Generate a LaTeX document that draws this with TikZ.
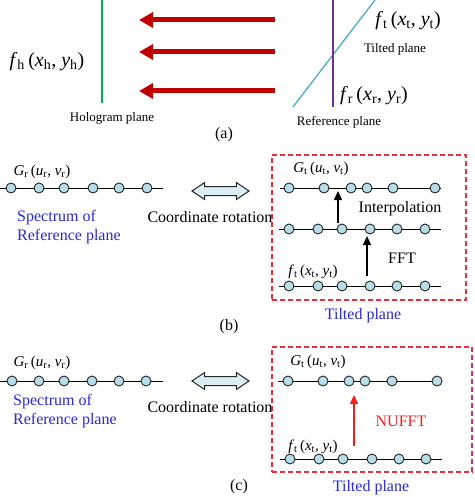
\documentclass[tikz,border=0pt]{standalone}
\usepackage{fontspec}
\setmainfont{Liberation Serif}
\usetikzlibrary{arrows.meta, shapes.arrows}
\definecolor{holoGreen}{HTML}{00B050}
\definecolor{refPurple}{HTML}{7030A0}
\definecolor{tiltCyan}{HTML}{4BACC6}
\definecolor{beamRed}{HTML}{C00000}
\definecolor{boxRed}{HTML}{E8303A}
\definecolor{nuRed}{HTML}{FF1A1A}
\definecolor{specBlue}{HTML}{2828DC}
\definecolor{sampleFill}{HTML}{B7DDE8}
\definecolor{arrowFill}{HTML}{DAEEF3}
\newcommand{\planefn}[4]{\textit{#1}\textsubscript{#2}\,(\textit{#3}\textsubscript{#2}, \textit{#4}\textsubscript{#2})}
\tikzset{
  rotfig/.style={x=1pt, y=-1pt, every node/.append style={inner sep=0pt}},
  txt/.style={font=\fontsize{16}{19}\selectfont},
  smalltxt/.style={font=\fontsize{13}{15}\selectfont},
  biglbl/.style={font=\fontsize{20}{23}\selectfont},
  lbl/.style={font=\fontsize{15}{17}\selectfont},
  bluetxt/.style={txt, text=specBlue, align=left},
  hololine/.style={draw=holoGreen, line width=1.3pt},
  refline/.style={draw=refPurple, line width=1.3pt},
  tiltline/.style={draw=tiltCyan, line width=1.3pt},
  beam/.style={draw=beamRed, line width=5pt, -{Triangle[length=14pt, width=15pt]}},
  axis/.style={draw=black, line width=1pt},
  sample/.style={circle, draw=black!85, fill=sampleFill, line width=0.9pt, minimum size=10pt},
  stepup/.style={draw=black, line width=1.3pt, -{Triangle[length=9pt, width=8pt]}},
  nuup/.style={draw=nuRed, line width=1.5pt, -{Triangle[length=9pt, width=8pt]}},
  rotarrow/.style={shape=double arrow, draw=black!85, fill=arrowFill, line width=1pt,
    inner xsep=0pt, inner ysep=4pt, minimum height=57pt,
    double arrow head extend=4pt, double arrow tip angle=68},
  tiltbox/.style={draw=boxRed, line width=1.4pt, dash pattern=on 5pt off 3pt},
}
\begin{document}
\begin{tikzpicture}[rotfig]
  \useasboundingbox (0,0) rectangle (474,497);
  % (a) planes and incoming beams
  \coordinate (holoTop) at (102,0);
  \coordinate (holoBot) at (102,103);
  \coordinate (refTop) at (333,0);
  \coordinate (refBot) at (333,107);
  \coordinate (tiltTop) at (375,0);
  \coordinate (tiltBot) at (293,107);
  \draw[hololine] (holoTop) -- (holoBot);
  \draw[tiltline] (tiltBot) -- (tiltTop);
  \draw[refline] (refTop) -- (refBot);
  \foreach \y [count=\i] in {20,52,91} {
    \coordinate (beamS\i) at (275,\y);
    \coordinate (beamE\i) at (139,\y);
    \draw[beam] (beamS\i) -- (beamE\i);
  }
  \node[biglbl] (fh) at (47,62) {\planefn{f}{h}{x}{y}};
  \node[smalltxt] (holoName) at (112,118) {Hologram plane};
  \node[biglbl] (ftA) at (408,21) {\planefn{f}{t}{x}{y}};
  \node[smalltxt] (tiltName) at (395,49) {Tilted plane};
  \node[biglbl] (fr) at (374,96) {\planefn{f}{r}{x}{y}};
  \node[smalltxt] (refName) at (339,122) {Reference plane};
  \node[txt] (capA) at (224,135) {(a)};
  % (b) FFT + interpolation
  \node[lbl] (GrB) at (42,172) {\planefn{G}{r}{u}{v}};
  \coordinate (rowBrL) at (0,188);
  \coordinate (rowBrR) at (163,188);
  \draw[axis] (rowBrL) -- (rowBrR);
  \foreach \x [count=\i] in {11,39,64,93,119,147}
    \node[sample] (br\i) at (\x,188) {};
  \node[bluetxt, anchor=west] (specB) at (17,227) {Spectrum of\\Reference plane};
  \node[rotarrow] (rotB) at (220.5,191) {};
  \node[txt] (rotNameB) at (210,217) {Coordinate rotation};
  \node[tiltbox, minimum width=194pt, minimum height=145pt] (boxB) at (369,227.5) {};
  \node[lbl] (GtB) at (321,169) {\planefn{G}{t}{u}{v}};
  \coordinate (rowBtL) at (280,188);
  \coordinate (rowBtR) at (441,188);
  \coordinate (rowBmL) at (279,229);
  \coordinate (rowBmR) at (441,229);
  \coordinate (rowBbL) at (279,286);
  \coordinate (rowBbR) at (441,286);
  \draw[axis] (rowBtL) -- (rowBtR);
  \draw[axis] (rowBmL) -- (rowBmR);
  \draw[axis] (rowBbL) -- (rowBbR);
  \foreach \x [count=\i] in {289,324,351,367,393,435}
    \node[sample] (bt\i) at (\x,188) {};
  \foreach \x [count=\i] in {289,318,342,370,397,425} {
    \node[sample] (bm\i) at (\x,229) {};
    \node[sample] (bb\i) at (\x,286) {};
  }
  \coordinate (interpS) at (338,223);
  \coordinate (interpE) at (338,191);
  \coordinate (fftS) at (367,276);
  \coordinate (fftE) at (367,236);
  \draw[stepup] (interpS) -- (interpE);
  \draw[stepup] (fftS) -- (fftE);
  \node[txt] (interpName) at (400,209) {Interpolation};
  \node[txt] (fftName) at (402,258) {FFT};
  \node[lbl] (ftB) at (313,272) {\planefn{f}{t}{x}{y}};
  \node[txt, text=specBlue] (tiltB) at (363,316) {Tilted plane};
  \node[txt] (capB) at (229,327) {(b)};
  % (c) NUFFT
  \node[lbl] (GrC) at (42,363) {\planefn{G}{r}{u}{v}};
  \coordinate (rowCrL) at (0,381);
  \coordinate (rowCrR) at (163,381);
  \draw[axis] (rowCrL) -- (rowCrR);
  \foreach \x [count=\i] in {12,39,64,92,119,146}
    \node[sample] (cr\i) at (\x,381) {};
  \node[bluetxt, anchor=west] (specC) at (13,411) {Spectrum of\\Reference plane};
  \node[rotarrow] (rotC) at (220.5,381) {};
  \node[txt] (rotNameC) at (210,407) {Coordinate rotation};
  \node[tiltbox, minimum width=200pt, minimum height=125pt] (boxC) at (372,409.5) {};
  \node[lbl] (GtC) at (318,362) {\planefn{G}{t}{u}{v}};
  \coordinate (rowCtL) at (278,381);
  \coordinate (rowCtR) at (442,381);
  \coordinate (rowCbL) at (280,459);
  \coordinate (rowCbR) at (442,459);
  \draw[axis] (rowCtL) -- (rowCtR);
  \draw[axis] (rowCbL) -- (rowCbR);
  \foreach \x [count=\i] in {288,323,349,365,392,437}
    \node[sample] (ct\i) at (\x,381) {};
  \foreach \x [count=\i] in {290,319,343,372,399,426}
    \node[sample] (cb\i) at (\x,459) {};
  \coordinate (nuS) at (354,446);
  \coordinate (nuE) at (354,395);
  \draw[nuup] (nuS) -- (nuE);
  \node[txt, text=nuRed] (nuName) at (401,421) {NUFFT};
  \node[lbl] (ftC) at (313,447) {\planefn{f}{t}{x}{y}};
  \node[txt, text=specBlue] (tiltC) at (371,488) {Tilted plane};
  \node[txt] (capC) at (239,487) {(c)};
\end{tikzpicture}
\end{document}
